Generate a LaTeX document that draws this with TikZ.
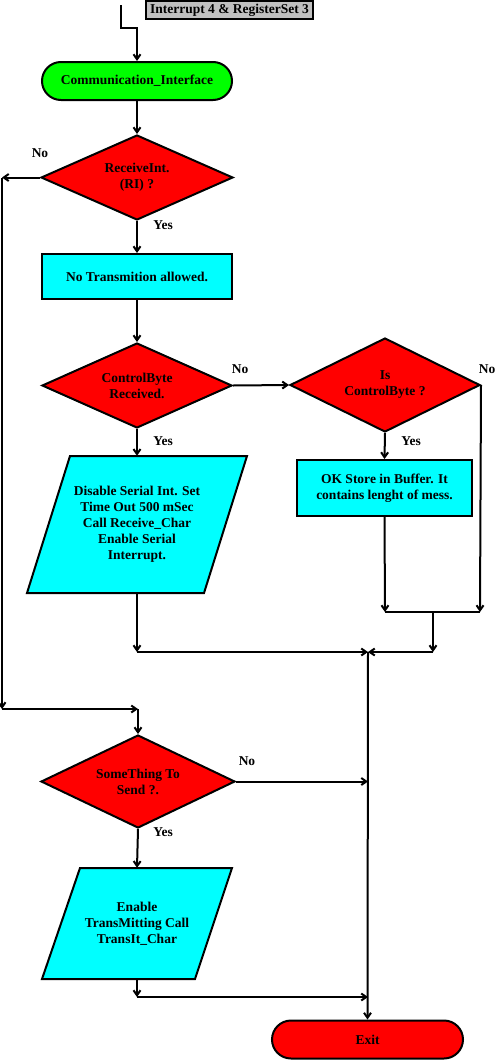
\documentclass[tikz,border=0pt]{standalone}
\usepackage{fontspec}
\setmainfont{Liberation Serif}
\usetikzlibrary{shapes.geometric,arrows.meta}
\definecolor{cgreen}{RGB}{0,255,0}
\definecolor{cred}{RGB}{255,0,0}
\definecolor{ccyan}{RGB}{0,255,255}
\definecolor{cgray}{RGB}{192,192,192}
\begin{document}
\begin{tikzpicture}[x=1pt,y=-1pt,
  every node/.style={font=\bfseries\fontsize{13.5}{16}\selectfont, align=center},
  line/.style={line width=2pt},
  arr/.style={line width=2pt,-{Straight Barb[length=5pt,width=7pt]}},
  terminal/.style={draw, line width=2pt, rounded corners=19pt, minimum width=190pt, minimum height=38pt, inner sep=0},
  decision/.style={draw, diamond, aspect=2.2, fill=cred, line width=2pt, inner sep=0},
  process/.style={draw, fill=ccyan, line width=2pt, inner sep=0},
  para/.style={draw, fill=ccyan, line width=2pt},
  lbl/.style={font=\bfseries\fontsize{13.5}{15}\selectfont}
]
\useasboundingbox (0,0) rectangle (496,1060);

% nodes
\node[draw, fill=cgray, line width=2pt, minimum width=167pt, minimum height=18pt, inner sep=0] (irq) at (229.5,10) {Interrupt 4 \& RegisterSet 3};
\node[terminal, fill=cgreen] (ci) at (137,81) {Communication\_Interface};
\node[decision, minimum width=192pt, minimum height=85pt] (d1) at (137,177.5) {ReceiveInt.\\(RI) ?};
\node[process, minimum width=190pt, minimum height=45pt] (b1) at (137,276.5) {No Transmition allowed.};
\node[decision, minimum width=190pt, minimum height=85pt] (d2) at (137,385.5) {ControlByte\\Received.};
\node[decision, minimum width=190pt, minimum height=94pt] (d3) at (385,385) {Is\\ControlByte ?};
\node[process, minimum width=175pt, minimum height=56pt] (b2) at (384.5,488) {OK Store in Buffer. It\\contains lenght of mess.};
\draw[para] (70,456) -- (247,456) -- (204,593) -- (27,593) -- cycle;
\node[minimum width=177pt, minimum height=137pt, inner sep=0] (p1) at (137,524.5) {Disable Serial Int. Set\\Time Out 500 mSec\\Call Receive\_Char\\Enable Serial\\Interrupt.};
\node[decision, minimum width=194pt, minimum height=93pt] (d4) at (138,781.5) {SomeThing To\\Send ?.};
\draw[para] (80,868) -- (232,868) -- (195,979) -- (42,979) -- cycle;
\node[minimum width=153pt, minimum height=111pt, inner sep=0] (p2) at (137,923.5) {Enable\\TransMitting Call\\TransIt\_Char};
\node[terminal, fill=cred, minimum width=191pt] (exit) at (367.5,1039.5) {Exit};

% coordinates
\coordinate (t0) at (121,5);
\coordinate (t1) at (121,28);
\coordinate (t2) at (137,28);
\coordinate (l1) at (2,177.5);
\coordinate (l2) at (2,709);
\coordinate (l3) at (138,709);
\coordinate (r1) at (480,612);
\coordinate (r2) at (385,612);
\coordinate (r3) at (433,612);
\coordinate (r4) at (433,652);
\coordinate (m1) at (137,652);
\coordinate (j1) at (368,652);
\coordinate (j2) at (368,781.5);
\coordinate (m2) at (137,997);
\coordinate (j3) at (368,997);

% connectors
\draw[arr] (t0) -- (t1) -- (t2) -- (ci.north);
\draw[arr] (ci.south) -- (d1.north);
\draw[arr] (d1.west) -- (l1);
\draw[arr] (l1) -- (l2);
\draw[arr] (l2) -- (l3);
\draw[arr] (l3) -- (d4.north);
\draw[arr] (d1.south) -- (b1.north);
\draw[arr] (b1.south) -- (d2.north);
\draw[arr] (d2.east) -- (d3.west);
\draw[arr] (d2.south) -- (p1.north);
\draw[arr] (d3.south) -- (b2.north);
\draw[arr] (d3.east) -- (r1);
\draw[arr] (b2.south) -- (r2);
\draw[line] (r2) -- (r1);
\draw[arr] (r3) -- (r4);
\draw[arr] (p1.south) -- (m1);
\draw[arr] (m1) -- (j1);
\draw[arr] (r4) -- (j1);
\draw[arr] (j1) -- (exit.north);
\draw[arr] (d4.east) -- (j2);
\draw[arr] (d4.south) -- (p2.north);
\draw[arr] (p2.south) -- (m2);
\draw[arr] (m2) -- (j3);

% labels
\node[lbl] (n1) at (40,153) {No};
\node[lbl] (y1) at (163,225) {Yes};
\node[lbl] (n2) at (240,369) {No};
\node[lbl] (n3) at (487,369) {No};
\node[lbl] (y2) at (163,441) {Yes};
\node[lbl] (y3) at (411,441) {Yes};
\node[lbl] (n4) at (247,761) {No};
\node[lbl] (y4) at (163,832) {Yes};
\end{tikzpicture}
\end{document}
